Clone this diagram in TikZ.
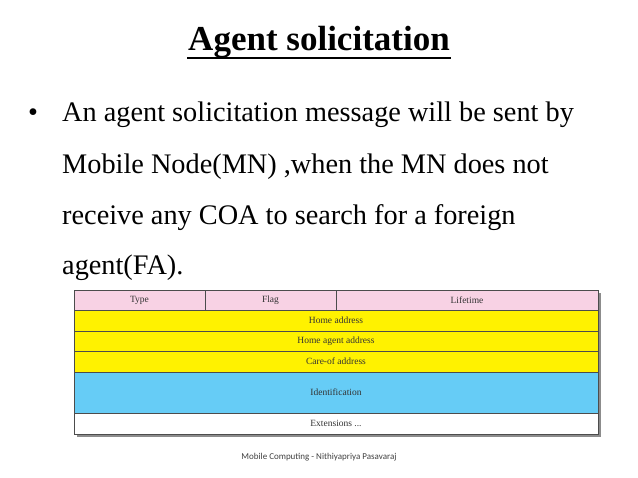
\documentclass[tikz,border=0pt]{standalone}
\usepackage{fontspec}
\setmainfont{Liberation Serif}
\newfontfamily\foot{Carlito}
\begin{document}
\begin{tikzpicture}[x=1pt,y=-1pt,
 cell/.style={draw=black!70,line width=0.8pt},
 lbl/.style={font=\fontsize{9.5}{11}\selectfont,text=black!80},
 line/.style={anchor=base west,inner sep=0pt,font=\fontsize{28.3}{32}\selectfont}]
\useasboundingbox (0,0) rectangle (638,478);
\node (title) at (319,42) {\fontsize{35}{40}\selectfont\bfseries Agent solicitation};
\draw[line width=1.4pt] (187,58) -- (451,58);
\node[line] (b) at (28,122) {•};
\node[line] (l1) at (62,122) {An agent solicitation message will be sent by};
\node[line] (l2) at (62,174) {Mobile Node(MN) ,when the MN does not};
\node[line] (l3) at (62,225) {receive any COA to search for a foreign};
\node[line] (l4) at (62,275) {agent(FA).};
\fill[black!45] (77,293) rectangle (601,437);
\draw[cell,fill={rgb,255:red,248;green,210;blue,228}] (74,290) rectangle (205,310);
\draw[cell,fill={rgb,255:red,248;green,210;blue,228}] (205,290) rectangle (336,310);
\draw[cell,fill={rgb,255:red,248;green,210;blue,228}] (336,290) rectangle (598,310);
\draw[cell,fill=yellow] (74,310) rectangle (598,331);
\draw[cell,fill=yellow] (74,331) rectangle (598,351);
\draw[cell,fill=yellow] (74,351) rectangle (598,372);
\draw[cell,fill={rgb,255:red,102;green,204;blue,246}] (74,372) rectangle (598,413);
\draw[cell,fill=white] (74,413) rectangle (598,434);
\node[lbl] (t1) at (139.5,300) {Type};
\node[lbl] (t2) at (270.5,300) {Flag};
\node[lbl] (t3) at (467,300) {Lifetime};
\node[lbl] (t4) at (336,320.5) {Home address};
\node[lbl] (t5) at (336,341) {Home agent address};
\node[lbl] (t6) at (336,361.5) {Care-of address};
\node[lbl] (t7) at (336,392.5) {Identification};
\node[lbl] (t8) at (336,423.5) {Extensions ...};
\node[font=\foot\fontsize{9}{10}\selectfont,text=black!75] (f) at (319,457) {Mobile Computing - Nithiyapriya Pasavaraj};
\end{tikzpicture}
\end{document}
